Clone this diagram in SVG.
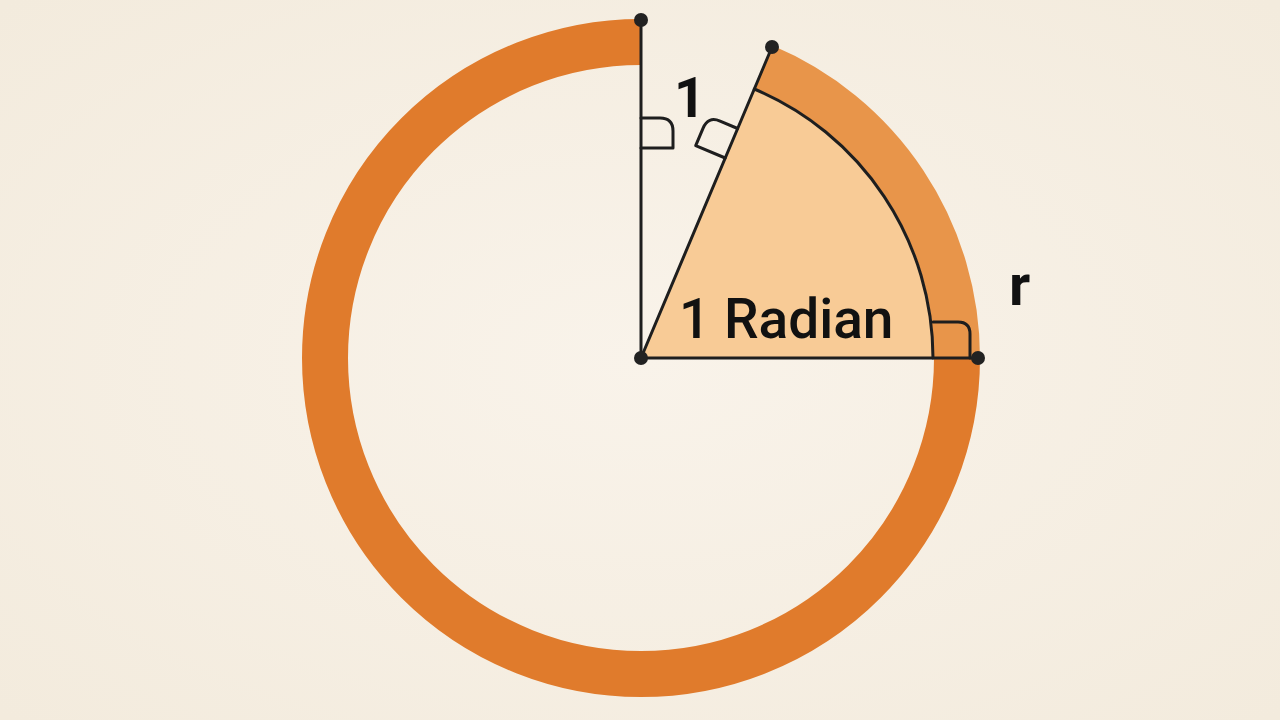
<svg xmlns="http://www.w3.org/2000/svg" width="1280" height="720" viewBox="0 0 1280 720">
<defs>
<radialGradient id="bg" cx="50%" cy="50%" r="70%">
<stop offset="0" stop-color="#F9F3EA"/>
<stop offset="1" stop-color="#F3EBDD"/>
</radialGradient>
</defs>
<style>
.ln{stroke:#1E1E1E;stroke-width:3;fill:none;stroke-linecap:round;stroke-linejoin:round}
.dot{fill:#222222}
.lbl{font-family:Roboto,"Liberation Sans",sans-serif;fill:#111111}
</style>
<rect width="1280" height="720" fill="url(#bg)"/>
<g id="ring">
<path d="M641,42 A316,316 0 1 0 957,358" fill="none" stroke="#E07B2C" stroke-width="46"/>
<path d="M957,358 A316,316 0 0 0 763.6,66.8" fill="none" stroke="#E8954A" stroke-width="46"/>
</g>
<g id="sector">
<path d="M641,358 L754.3,89 A292,292 0 0 1 933,358 Z" fill="#F8CB96"/>
<path d="M754.3,89 A292,292 0 0 1 933,358" class="ln" stroke-width="3.5"/>
</g>
<g id="connectors">
<line x1="641" y1="20" x2="641" y2="358" class="ln"/>
<line x1="641" y1="358" x2="772" y2="47" class="ln"/>
<line x1="641" y1="358" x2="978" y2="358" class="ln"/>
<path d="M641,118 H660 Q673,118 673,131 V148 H641" class="ln"/>
<path d="M737.6,128.5 L720.1,121.1 Q708.1,116 703.1,128.1 L695.7,145.6 L725.2,158" class="ln"/>
<path d="M933,322 H958 Q970,322 970,334 V358" class="ln"/>
</g>
<g id="points">
<circle cx="641" cy="20" r="7" class="dot"/>
<circle cx="772" cy="47" r="7" class="dot"/>
<circle cx="641" cy="358" r="7" class="dot"/>
<circle cx="978" cy="358" r="7" class="dot"/>
</g>
<g id="labels">
<text x="674" y="117" class="lbl" font-size="55" font-weight="700">1</text>
<text x="679" y="338" class="lbl" font-size="55" font-weight="500">1 Radian</text>
<text x="1009" y="305" class="lbl" font-size="58" font-weight="700">r</text>
</g>
</svg>
